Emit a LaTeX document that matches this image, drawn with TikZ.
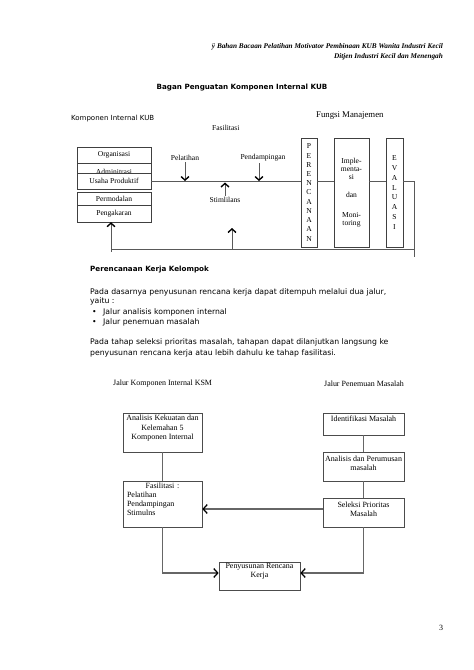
\documentclass[tikz,border=0pt]{standalone}
\usepackage{fontspec}
\setmainfont{Liberation Serif}
\newfontfamily\dvs{DejaVu Sans}
\usetikzlibrary{arrows.meta}
\begin{document}
\begin{tikzpicture}[x=1.2553pt,y=-1.2553pt,
  wh/.style 2 args={minimum width=#1*1.2553pt, minimum height=#2*1.2553pt},
  tbox/.style={draw=black!75, line width=0.6pt, inner sep=0pt, fill=white, align=center, font=\fontsize{9.5}{11}\selectfont},
  lbox/.style={draw=black!70, line width=0.9pt, inner sep=0pt, fill=white, align=center, font=\fontsize{10}{11.5}\selectfont},
  tline/.style={draw=black!65, line width=0.6pt},
  lline/.style={draw=black!60, line width=1.3pt},
  tchev/.style={-{Straight Barb[length=4.5pt,width=10pt,line width=1.7pt,color=black]}},
  lchev/.style={-{Straight Barb[length=5pt,width=11pt,line width=1.6pt,color=black]}},
  ser/.style={font=\fontsize{9.5}{11}\selectfont, inner sep=0pt},
  body/.style={font=\dvs\fontsize{9.7}{11}\selectfont, inner sep=0pt, anchor=west},
]
\useasboundingbox[fill=white] (0,0) rectangle (474,670);

% header
\node[font=\bfseries\itshape\fontsize{9.1}{10}\selectfont, inner sep=0pt, anchor=east] (h1) at (443,47) {ÿ Bahan Bacaan Pelatihan Motivator Pembinaan KUB Wanita Industri Kecil};
\node[font=\bfseries\itshape\fontsize{9.1}{10}\selectfont, inner sep=0pt, anchor=east] (h2) at (443,57) {Ditjen Industri Kecil dan Menengah};

% title
\node[font=\dvs\bfseries\fontsize{9}{11}\selectfont, inner sep=0pt] (title) at (242,88) {Bagan Penguatan Komponen Internal KUB};

\node[font=\dvs\fontsize{8.8}{10}\selectfont, inner sep=0pt, anchor=west] (kik) at (71,119) {Komponen Internal KUB};
\node[font=\fontsize{11}{12}\selectfont, inner sep=0pt, anchor=west] (fm) at (316,116) {Fungsi Manajemen};
\node[ser, anchor=west] (fasl) at (212,128) {Fasilitasi};

% left boxes
\node[tbox, wh={74}{16}] (org) at (114,155) {Organisasi};
\node[tbox, wh={74}{10}] (adm) at (114,168) {\raisebox{-8.5pt}[0pt][0pt]{Adminitrasi}};
\node[tbox, wh={74}{16}] (usaha) at (114,181) {Usaha Produktif};
\node[tbox, wh={74}{13}] (modal) at (114,198.5) {\raisebox{-1.5pt}{Permodalan}};
\node[tbox, wh={74}{17}] (akar) at (114,213.5) {Pengakaran};

% management boxes
\node[tbox, wh={16}{109}, font=\fontsize{9.5}{11.6}\selectfont] (renc) at (309,192.5) {P\\E\\R\\E\\N\\C\\A\\N\\A\\A\\N};
\node[tbox, wh={35}{109}, font=\fontsize{9.5}{10.5}\selectfont] (impl) at (351.5,192.5) {Imple-\\menta-\\si\\[12pt]dan\\[14pt]Moni-\\toring};
\node[tbox, wh={17}{109}, font=\fontsize{9.5}{12.5}\selectfont] (eval) at (394.5,192.5) {E\\V\\A\\L\\U\\A\\S\\I};

% labels on the main line
\node[ser] (pel) at (185,158) {Pelatihan};
\node[ser] (pend) at (263,158) {Pendampingan};
\node[ser] (stim) at (225,200) {Stimlilans};

% main line
\draw[tline] (usaha.east) -- (usaha.east -| renc.west);
\draw[tline] (usaha.east -| renc.east) -- (usaha.east -| impl.west);
\draw[tline] (usaha.east -| impl.east) -- (usaha.east -| eval.west);
\coordinate (rc) at (414,181);
\coordinate (rb) at (414,257);
\coordinate (lb) at (414,249);
\draw[tline] (usaha.east -| eval.east) -- (rc) -- (rb);
\coordinate (bl) at (111,249);
\draw[tline] (lb) -- (bl);
\draw[tline] (bl) -- ++(0,3);
\draw[tline, tchev] (bl) -- (bl |- akar.south);
\coordinate (ma) at (232,249);
\coordinate (mt) at (232,228);
\draw[tline, tchev] (ma) -- (mt);
\draw[tline, tchev] ([yshift=-2pt]pel.south) -- (pel.south |- usaha.east);
\draw[tline, tchev] ([yshift=-2pt]pend.south -| 259,0) -- (259,181);
\draw[tline, tchev] ([yshift=2pt]stim.north) -- (stim.north |- 0,182.5);

% text section
\node[font=\dvs\bfseries\fontsize{9}{11}\selectfont, inner sep=0pt, anchor=west] (pkk) at (90,270) {Perencanaan Kerja Kelompok};
\node[body] (t1) at (90,292) {Pada dasarnya penyusunan rencana kerja dapat ditempuh melalui dua jalur,};
\node[body] (t2) at (90,301.5) {yaitu :};
\node[body] (b1) at (92,312) {\textbullet\hspace{8pt}Jalur analisis komponen internal};
\node[body] (b2) at (92,322.5) {\textbullet\hspace{8pt}Jalur penemuan masalah};
\node[body] (t3) at (90,342) {Pada tahap seleksi prioritas masalah, tahapan dapat dilanjutkan langsung ke};
\node[body] (t4) at (90,353) {penyusunan rencana kerja atau lebih dahulu ke tahap fasilitasi.};

% lower diagram
\node[font=\fontsize{10}{12}\selectfont, inner sep=0pt, anchor=west] (jk) at (113,384) {Jalur Komponen Internal KSM};
\node[font=\fontsize{10}{12}\selectfont, inner sep=0pt, anchor=west] (jp) at (324,384) {Jalur Penemuan Masalah};

\node[lbox, wh={79}{39}, text depth=13pt] (ak) at (162.5,432.5) {Analisis Kekuatan dan\\Kelemahan 5\\Komponen Internal};
\node[lbox, wh={79}{46}, text width=89pt, align=left, text depth=46pt] (fas) at (162.5,504) {\makebox[\linewidth][c]{Fasilitasi :}\\Pelatihan\\Pendampingan\\Stimulns};
\node[lbox, wh={81}{28}, text depth=14pt] (pen) at (259.5,576) {Penyusunan Rencana\\Kerja};

\node[lbox, wh={81}{22}, text depth=14pt] (id) at (363.5,424) {Identifikasi Masalah};
\node[lbox, wh={81}{29}, text depth=8.5pt] (ap) at (363.5,466.5) {Analisis dan Perumusan\\masalah};
\node[lbox, wh={81}{29}, text depth=8.5pt] (sp) at (363.5,512.5) {Seleksi Prioritas\\Masalah};

\draw[lline] (ak.south) -- (fas.north);
\draw[lline] (id.south) -- (ap.north);
\draw[lline] (ap.south) -- (sp.north);
\coordinate (fy) at (0,509);
\coordinate (py) at (0,573);
\draw[lline, lchev] (sp.west |- fy) -- (fas.east |- fy);
\draw[lline, lchev] (fas.south) -- (fas.south |- py) -- (pen.west |- py);
\draw[lline, lchev] (sp.south) -- (sp.south |- py) -- (pen.east |- py);

\node[font=\fontsize{10}{12}\selectfont, inner sep=0pt] (pg) at (441,628) {3};
\end{tikzpicture}
\end{document}
